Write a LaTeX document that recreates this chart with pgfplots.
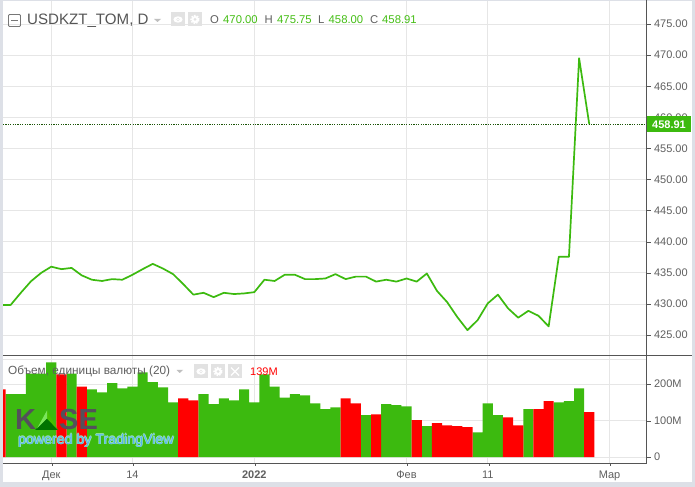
\documentclass[border=0pt]{standalone}
\usepackage{pgfplots}
\usepackage{fontspec}
\setmainfont{Liberation Sans}
\pgfplotsset{compat=1.18}
\definecolor{tvgreen}{HTML}{3CBA0F}
\definecolor{tvtext}{HTML}{45BE15}
\definecolor{tvred}{HTML}{FF0000}
\definecolor{gridc}{HTML}{E6E6E6}
\definecolor{axc}{HTML}{555555}
\definecolor{labc}{HTML}{5F5F5F}
\definecolor{edge}{HTML}{DDE0E7}
\definecolor{iconbg}{HTML}{E2E2E2}
\definecolor{logod}{HTML}{54505A}
\definecolor{tvblue}{HTML}{52B6EE}
\definecolor{tvhalo}{HTML}{A5E6C0}
\pgfplotstableread{
i v
-1 429.85
0 429.85
1 431.8
2 433.65
3 435.0
4 436.0
5 435.6
6 435.8
7 434.6
8 433.9
9 433.7
10 434.0
11 433.9
12 434.7
13 435.6
14 436.45
15 435.7
16 434.8
17 433.2
18 431.5
19 431.8
20 431.1
21 431.8
22 431.6
23 431.7
24 431.9
25 433.9
26 433.7
27 434.7
28 434.7
29 434.0
30 434.0
31 434.1
32 434.8
33 434.0
34 434.4
35 434.4
36 433.6
37 433.9
38 433.6
39 434.1
40 433.6
41 434.9
42 432.1
43 430.3
44 427.9
45 425.8
46 427.4
47 430.1
48 431.5
49 429.3
50 427.8
51 428.9
52 428.1
53 426.4
54 437.6
55 437.6
56 469.5
57 458.91
}\closes
\pgfplotstableread{
i v
0 172
1 172
2 228
3 228
4 259
6 228
8 185
9 177
10 202
11 188
12 193
13 232
14 205
15 191
16 150
19 172
20 145
21 161
22 155
23 185
24 150
25 226
26 193
27 163
28 172
29 169
30 147
31 131
32 136
35 115
37 145
38 142
39 139
41 85
46 68
47 147
48 115
51 131
54 150
55 153
56 188
}\volgreen
\pgfplotstableread{
i v
-1 185
5 226
7 193
17 161
18 155
33 161
34 147
36 117
40 101
42 93
43 87
44 85
45 82
49 109
50 87
52 131
53 153
57 123
}\volred
\newcommand{\eye}[2]{%
  \fill[iconbg] (#1-7,486-#2-7) rectangle (#1+7,486-#2+7);
  \fill[white] (#1,486-#2) ellipse (4.6 and 3.2);
  \fill[iconbg] (#1,486-#2) circle (1.7);
  \fill[white] (#1,486-#2) circle (0.8);}
\newcommand{\gear}[2]{%
  \fill[iconbg] (#1-7,486-#2-7) rectangle (#1+7,486-#2+7);
  \draw[white,line width=1.4pt,dash pattern=on 1.6pt off 1.2pt] (#1,486-#2) circle (4);
  \fill[white] (#1,486-#2) circle (3.6);
  \fill[iconbg] (#1,486-#2) circle (1.5);}
\begin{document}
\begin{tikzpicture}[x=1pt,y=1pt]
\fill[white] (0,0) rectangle (695,486);
% price pane
\begin{axis}[
  at={(3pt,131pt)},anchor=south west,
  scale only axis,width=643.5pt,height=355pt,
  xmin=-0.756,xmax=62.64,ymin=421.72,ymax=478.79,
  axis x line*=bottom,axis y line*=right,
  axis line style={draw=none},
  xtick={4,12,24,39,47,59},xticklabels={},
  major tick length=0pt,
  ytick={425,430,435,440,445,450,455,460,465,470,475},
  yticklabel style={/pgf/number format/fixed,/pgf/number format/fixed zerofill,/pgf/number format/precision=2,/pgf/number format/assume math mode=true,font=\fontsize{11}{12}\selectfont,text=labc,xshift=4pt},
  grid=major,major grid style={gridc,line width=0.8pt},
  clip=true]
\addplot[tvgreen,line width=1.7pt,line join=round] table[x=i,y=v]{\closes};
\addplot[tvgreen!45!black,line width=0.6pt,dash pattern=on 1.2pt off 1.2pt] coordinates {(-0.756,458.91) (62.64,458.91)};
\end{axis}
% volume pane
\begin{axis}[
  at={(3pt,23pt)},anchor=south west,
  scale only axis,width=643.5pt,height=108pt,
  xmin=-0.756,xmax=62.64,ymin=-17.26,ymax=277.8,
  axis x line*=bottom,axis y line*=right,
  axis line style={draw=none},
  xtick={4,12,24,39,47,59},xticklabels={Дек,14,\textbf{2022},Фев,11,Мар},
  major tick length=0pt,
  xticklabel style={font=\fontsize{11}{12}\selectfont,text=labc,yshift=-4pt},
  ytick={0,100,200},yticklabels={0,100M,200M},
  yticklabel style={font=\fontsize{11}{12}\selectfont,text=labc,xshift=4pt},
  grid=major,major grid style={gridc,line width=0.8pt},
  clip=true]
\draw[gridc,line width=0.8pt] (axis cs:-0.756,266) -- (axis cs:62.64,266);
\addplot[ybar,bar width=10.15pt,fill=tvgreen,draw=none,bar shift=0pt] table[x=i,y=v]{\volgreen};
\addplot[ybar,bar width=10.15pt,fill=tvred,draw=none,bar shift=0pt] table[x=i,y=v]{\volred};
\end{axis}
% frame
\fill[edge] (0,0) rectangle (695,4);
\fill[edge] (0,0) rectangle (2.5,486);
\fill[edge] (692,0) rectangle (695,486);
\fill[edge] (0,485) rectangle (695,486);
\draw[axc,line width=1pt] (646.5,486) -- (646.5,22.5);
\draw[axc,line width=1pt] (3,23) -- (646.5,23);
\draw[axc,line width=1pt] (3,130.7) -- (692,130.7);
\foreach \yy in {23.5,54.5,86,117,148,179,210,241.5,272.5,303.5,334.5} \draw[axc,line width=0.8pt] (646.5,486-\yy) -- (651,486-\yy);
\foreach \yy in {383.7,420.7,456.7} \draw[axc,line width=0.8pt] (646.5,486-\yy) -- (651,486-\yy);
\foreach \xx in {52.3,133.5,255.3,407.3,489.3,610.3} \draw[axc,line width=0.7pt] (\xx,23) -- (\xx,20);
% last price
\fill[tvgreen] (646.5,486-131.5) rectangle (691,486-116);
\node[anchor=center,text=white,font=\fontsize{11}{12}\selectfont\bfseries] at (669,486-124) {458.91};
% legend top
\draw[axc!80,line width=0.8pt,rounded corners=1pt] (8.5,486-14) rectangle (20.5,486-26);
\draw[axc!80,line width=0.8pt] (11,486-20) -- (18,486-20);
\node[anchor=west,inner sep=0pt,text=axc,font=\fontsize{15.1}{16}\selectfont] at (27,486-20) {USDKZT\_TOM, D};
\fill[black!25] (154,486-18.5) -- (161,486-18.5) -- (157.5,486-21.5) -- cycle;
\eye{178}{19}
\gear{195}{19}
\begin{scope}[every node/.style={anchor=west,inner sep=0pt,font=\fontsize{11.3}{13}\selectfont}]
\node[text=labc] at (210,486-19.5) {O};
\node[text=tvtext] at (223,486-19.5) {470.00};
\node[text=labc] at (264.5,486-19.5) {H};
\node[text=tvtext] at (277,486-19.5) {475.75};
\node[text=labc] at (318,486-19.5) {L};
\node[text=tvtext] at (328.5,486-19.5) {458.00};
\node[text=labc] at (370,486-19.5) {C};
\node[text=tvtext] at (382,486-19.5) {458.91};
\end{scope}
% legend volume
\node[anchor=west,inner sep=0pt,text=labc,font=\fontsize{11.8}{13}\selectfont] at (8,486-371) {Объем, единицы валюты (20)};
\fill[black!25] (176.5,486-369.5) -- (183,486-369.5) -- (179.7,486-372.5) -- cycle;
\eye{201}{371}
\gear{218}{371}
\fill[iconbg] (228,486-364) rectangle (242,486-378);
\draw[white,line width=1.3pt] (231,486-367) -- (239,486-375) (239,486-367) -- (231,486-375);
\node[anchor=west,inner sep=0pt,text=tvred,font=\fontsize{11}{12}\selectfont] at (250,486-371) {139M};
% watermark
\node[anchor=west,inner sep=0pt,text=logod,font=\fontsize{29}{30}\bfseries\selectfont] at (15,486-419.5) {K};
\fill[green!45!black] (35,486-429.5) -- (47,486-418) -- (58,486-429.5) -- cycle;
\fill[lime!50!green!75!black] (47,486-410) -- (58,486-429.5) -- (47,486-418) -- cycle;
\fill[lime!30!green!60!white!90!black] (47,486-410) -- (37,486-428) -- (47,486-418) -- cycle;
\node[anchor=west,inner sep=0pt,text=logod,font=\fontsize{29}{30}\bfseries\selectfont] at (59,486-419.5) {SE};
\foreach \dx/\dy in {-0.6/0,0.6/0,0/0.6,0/-0.6}
  \node[anchor=west,inner sep=0pt,text=tvhalo,font=\fontsize{14.2}{16}\selectfont] at (18+\dx,486-440+\dy) {powered by TradingView};
\node[anchor=west,inner sep=0pt,text=tvblue,font=\fontsize{14.2}{16}\selectfont] at (18,486-440) {powered by TradingView};
\end{tikzpicture}
\end{document}
